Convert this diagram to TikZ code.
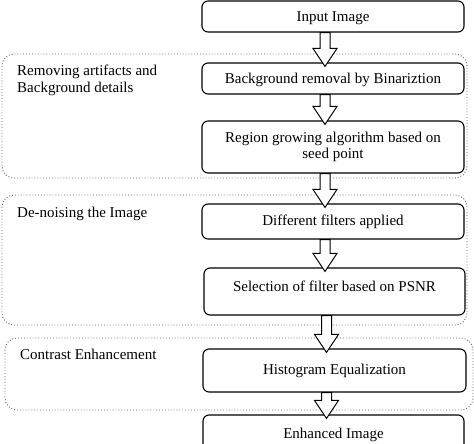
\documentclass[tikz,border=0pt]{standalone}
\usepackage{fontspec}
\setmainfont{Liberation Serif}
\usetikzlibrary{calc}
\tikzset{
  stepbox/.style={draw=black, line width=1.1pt, rounded corners=6pt, fill=white, align=center, font=\fontsize{15}{16.5}\selectfont, inner sep=0pt},
  grp/.style={draw=black!60, dotted, line width=0.9pt, rounded corners=12pt},
  lbl/.style={anchor=north west, align=left, font=\fontsize{15}{17}\selectfont, inner sep=0pt},
  blk/.style={draw=black, line width=1pt, fill=white, line join=miter}
}
\newcommand{\blockarr}[2]{%
  \draw[blk] let \p1=(#1.south), \p2=(#2.north) in
    (\x1-13pt,\y1) -- (\x1-3pt,\y1) -- (\x1-3pt,\y2+14pt) -- (\x1+4pt,\y2+14pt)
    -- (\x1-8pt,\y2-4pt) -- (\x1-20pt,\y2+14pt) -- (\x1-13pt,\y2+14pt) -- cycle;}
\begin{document}
\begin{tikzpicture}[x=1pt,y=-1pt]
\useasboundingbox (0,0) rectangle (474,444);
% groups
\draw[grp] (2,54) rectangle (467,178);
\draw[grp] (2,195) rectangle (467,325);
\draw[grp] (5,338) rectangle (473,410);
% labels
\node[lbl] (l1) at (17,65) {Removing artifacts and\\Background details};
\node[lbl] (l2) at (17,207) {De-noising the Image};
\node[lbl] (l3) at (20,349) {Contrast Enhancement};
% boxes
\node[stepbox, minimum width=262pt, minimum height=31pt, text height=14pt, text depth=3pt] (b0) at (333,16.5) {Input Image};
\node[stepbox, minimum width=262pt, minimum height=31pt, text height=14pt, text depth=3pt] (b1) at (333,78.5) {Background removal by Binariztion};
\node[stepbox, minimum width=262pt, minimum height=52pt] (b2) at (333,147) {Region growing algorithm based on\\seed point};
\node[stepbox, minimum width=262pt, minimum height=35pt] (b3) at (333,221.5) {Different filters applied};
\node[stepbox, minimum width=261pt, minimum height=47pt, text height=10pt, text depth=11pt] (b4) at (334.5,291.5) {Selection of filter based on PSNR};
\node[stepbox, minimum width=263pt, minimum height=43pt] (b5) at (334.5,370.5) {Histogram Equalization};
\node[stepbox, minimum width=261pt, minimum height=40pt] (b6) at (333.5,435) {Enhanced Image};
% arrows
\blockarr{b0}{b1}
\blockarr{b1}{b2}
\blockarr{b2}{b3}
\blockarr{b3}{b4}
\blockarr{b4}{b5}
\blockarr{b5}{b6}
\end{tikzpicture}
\end{document}
